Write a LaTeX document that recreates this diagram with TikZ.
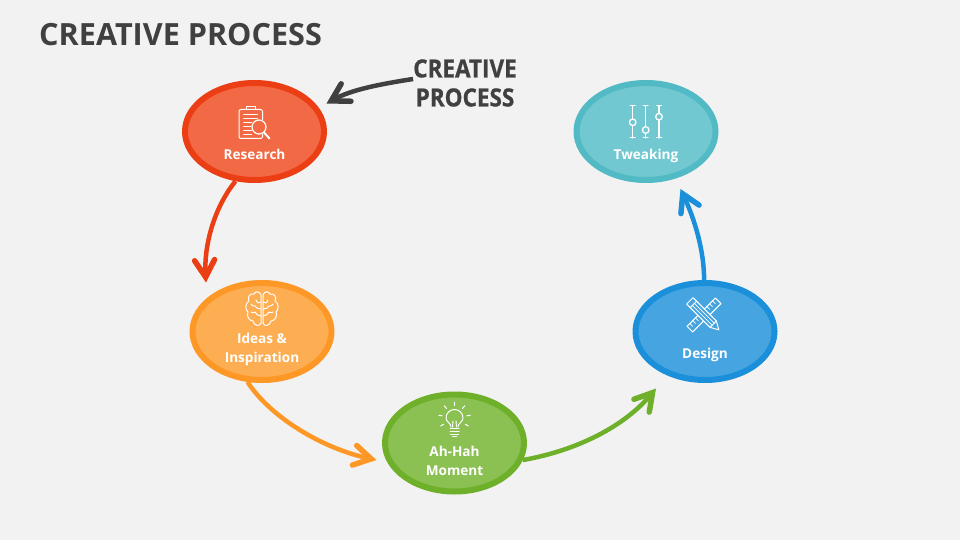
\documentclass[tikz,border=0pt]{standalone}
\usepackage{fontspec}
\setmainfont{Open Sans}
\newfontfamily\calloutfont[FakeStretch=0.9,FakeBold=0.8]{Open Sans}
\usetikzlibrary{calc,arrows.meta,shapes.geometric}

\definecolor{pagegray}{HTML}{F2F2F2}
\definecolor{inkgray}{HTML}{404040}
\definecolor{redfill}{HTML}{F26A45}
\definecolor{redline}{HTML}{EC3E14}
\definecolor{orangefill}{HTML}{FDAD52}
\definecolor{orangeline}{HTML}{FD9827}
\definecolor{greenfill}{HTML}{8BC052}
\definecolor{greenline}{HTML}{6FB02B}
\definecolor{bluefill}{HTML}{46A5E0}
\definecolor{blueline}{HTML}{1B8FD9}
\definecolor{tealfill}{HTML}{72C8D0}
\definecolor{tealline}{HTML}{52BAC5}

\tikzset{
  stage/.style={ellipse,draw=#1line,fill=#1fill,line width=6pt,minimum width=139pt,minimum height=97pt,inner sep=0pt},
  stagelabel/.style={text=white,font=\bfseries\fontsize{13.6}{19}\selectfont,align=center,inner sep=0pt,anchor=base},
  flow/.style={line width=4.5pt,draw=#1,-{Straight Barb[length=17pt,width=20pt,line width=5.5pt,line cap=round,line join=miter]}},
  icon/.style={draw=white,line width=1pt,line cap=round,line join=round},
}

\begin{document}
\begin{tikzpicture}[x=1pt,y=-1pt]
\fill[pagegray] (0,0) rectangle (960,540);

\draw node [anchor=west,inner sep=0pt,text=inkgray,font=\bfseries\fontsize{30.6}{31}\selectfont] (title) at (39,35){CREATIVE PROCESS};
\draw node [align=center,inner sep=0pt,text=inkgray,font=\calloutfont\bfseries\fontsize{25}{29}\selectfont] (callout) at (465,83){CREATIVE\\PROCESS};

\draw node [stage=red] (research) at (254.5,131.5){};
\draw node [stage=orange] (ideas) at (262,331.5){};
\draw node [stage=green] (ahhah) at (454.5,443){};
\draw node [stage=blue] (design) at (705,331.5){};
\draw node [stage=teal] (tweaking) at (646,131.5){};

\draw node [stagelabel] (researchlabel) at ($ (research)+(0,28.5)$){Research};
\draw node [stagelabel] (ideaslabel) at ($ (ideas)+(0,30.5)$){Ideas \&\\Inspiration};
\draw node [stagelabel] (ahhahlabel) at ($ (ahhah)+(0,32)$){Ah-Hah\\Moment};
\draw node [stagelabel] (designlabel) at ($ (design)+(0,26.5)$){Design};
\draw node [stagelabel] (tweakinglabel) at ($ (tweaking)+(0,28.5)$){Tweaking};

\coordinate (callouttail) at ($ (callout.west)+(0,-4)$);
\coordinate (ideastip) at ($ (ideas)+(-56,-49)$);
\coordinate (ahhahtip) at ($ (ahhah)+(-78,17)$);
\coordinate (designtip) at ($ (design)+(-49,57)$);
\coordinate (tweakingtip) at ($ (tweaking)+(34.5,57.5)$);
\coordinate (researchtip) at ($ (research)+(72,-28)$);

\draw[flow=inkgray] (callouttail) .. controls ($ (callouttail)+(-32,5)$) and ($ (researchtip)+(25,-14)$) .. (researchtip);
\draw[flow=redline] (research.249) .. controls ($ (research.249)+(-24,30)$) and ($ (ideastip)+(-2,-32)$) .. (ideastip);
\draw[flow=orangeline] (ideas.254) .. controls ($ (ideas.254)+(22,34)$) and ($ (ahhahtip)+(-56,-12)$) .. (ahhahtip);
\draw[flow=greenline] (ahhah.-14) .. controls ($ (ahhah.-14)+(56,-10)$) and ($ (designtip)+(-31,37)$) .. (designtip);
\draw[flow=blueline] (design.91) .. controls ($ (design.91)+(0,-30)$) and ($ (tweakingtip)+(14,30)$) .. (tweakingtip);

% research icon
\begin{scope}[shift={(research)}]
\draw[icon] (-8,-25) rectangle (1,-21.5);
\draw[icon,rounded corners=2pt] (-15.5,-22) -- (-15.5,7) -- (8,7) -- (8,-22) -- cycle;
\foreach \y in {-17,-13,-9,-5,-1,3} \draw[icon] (-11,\y) -- (-3,\y);
\foreach \y in {-17,-13} \draw[icon] (-3,\y) -- (3,\y);
\fill[redfill] (4.5,-4.5) circle (8);
\draw[icon,line width=1.2pt] (4.5,-4.5) circle (7);
\draw[icon,line width=2pt] (9.5,1) -- (15,7);
\end{scope}

% ideas icon
\begin{scope}[shift={($ (ideas)+(0,-22.5)$)}]
\foreach \s in {1,-1} {
\begin{scope}[xscale=\s]
\draw[icon] (1,-14) .. controls (2,-18) and (7,-18) .. (8,-15) .. controls (12,-16) and (15,-12) .. (13,-8) .. controls (17,-6) and (17,1) .. (14,3) .. controls (16,8) and (12,12) .. (9,12) .. controls (8,17) and (2,18) .. (1,14) -- cycle;
\draw[icon] (1,-7) .. controls (3,-5) and (5,-6) .. (6,-9);
\draw[icon] (1,0) .. controls (4,0) and (6,-1) .. (7,-3) .. controls (9,-3) and (10,-3) .. (11,-5);
\draw[icon] (1,7) .. controls (4,7) and (6,5) .. (7,3) .. controls (9,4) and (10,4) .. (11,3);
\end{scope}
}
\end{scope}

% ahhah icon
\begin{scope}[shift={($ (ahhah)+(0,-25)$)}]
\draw[icon] (-3.5,9) .. controls (-3.5,5) and (-8.5,4) .. (-8.5,0) arc (180:360:8.5) .. controls (8.5,4) and (3.5,5) .. (3.5,9);
\draw[icon] (-4.5,10) -- (4.5,10) (-4.5,13) -- (4.5,13) (-4,16) -- (4,16) (-2,18.5) -- (2,18.5);
\draw[icon] (-2,9) -- (-1.5,3) (2,9) -- (1.5,3);
\foreach \a in {-120,-80,-40,0,40,80,120} {
\draw[icon] ($ (0,0)+({sin(\a)*12.5},{-cos(\a)*12.5})$) -- ($ (0,0)+({sin(\a)*16},{-cos(\a)*16})$);
}
\end{scope}

% design icon
\begin{scope}[shift={($ (design)+(-1,-16.5)$)}]
\begin{scope}[rotate=45]
\draw[icon] (-20,-4) rectangle (20,4);
\foreach \x in {-16,-12,-8,8,12,16} \draw[icon,line width=.7pt] (\x,-4) -- (\x,0);
\end{scope}
\begin{scope}[rotate=-45]
\draw[icon,fill=bluefill] (-20,-4.5) -- (13,-4.5) -- (21,0) -- (13,4.5) -- (-20,4.5) -- cycle;
\draw[icon] (-15,-4.5) -- (-15,4.5) (13,-4.5) -- (13,4.5);
\draw[icon,line width=.7pt] (-15,-1.5) -- (13,-1.5) (-15,1.5) -- (13,1.5);
\end{scope}
\end{scope}

% tweaking icon
\begin{scope}[shift={(tweaking)}]
\foreach \x/\y in {-13.3/-9.2,-0.3/-1.5,13/-14.8} {
\draw[icon,line width=1.3pt] (\x,-25.5) -- (\x,6.5);
\draw[icon] ($ (\x,-25.5)+(-2.5,0)$) -- ($ (\x,-25.5)+(2.5,0)$);
\draw[icon] ($ (\x,6.5)+(-2.5,0)$) -- ($ (\x,6.5)+(2.5,0)$);
\draw[icon,line width=1.3pt,fill=tealfill] (\x,\y) circle (3.3);
}
\end{scope}

\end{tikzpicture}
\end{document}
